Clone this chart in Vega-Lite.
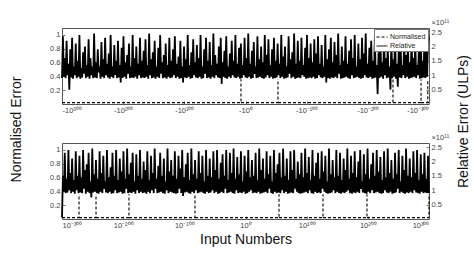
{
"$schema": "https://vega.github.io/schema/vega-lite/v6.json",
"padding": {"left": 8, "top": 18, "right": 5, "bottom": 5},
"config": {
  "font": "Liberation Sans",
  "view": {"stroke": "#555", "strokeWidth": 1},
  "axis": {"grid": false, "domain": false, "tickColor": "#777", "tickSize": -3, "labelFontSize": 7.5, "labelColor": "#444", "titleFontSize": 14, "titleFontWeight": "normal", "titleColor": "#111", "labelPadding": 5}
},
"datasets": {
"top": [
{"i":0,"r":0.9},{"i":1,"r":2.35},{"i":2,"r":0.95},{"i":3,"r":1.6},{"i":4,"r":0.9},{"i":5,"r":2.2},{"i":6,"r":1.0},{"i":7,"r":1.4},{"i":8,"r":0.5},{"i":9,"r":1.9},
{"i":10,"r":0.92},{"i":11,"r":2.3},{"i":12,"r":0.88},{"i":13,"r":1.3},{"i":14,"r":1.0},{"i":15,"r":2.1},{"i":16,"r":0.9},{"i":17,"r":1.5},{"i":18,"r":0.95},{"i":19,"r":2.4},
{"i":20,"r":0.88},{"i":21,"r":1.25},{"i":22,"r":0.92},{"i":23,"r":1.8},{"i":24,"r":1.05},{"i":25,"r":2.0},{"i":26,"r":0.9},{"i":27,"r":1.35},{"i":28,"r":0.95},{"i":29,"r":2.25},
{"i":30,"r":0.88},{"i":31,"r":1.6},{"i":32,"r":1.0},{"i":33,"r":1.3},{"i":34,"r":0.9},{"i":35,"r":2.45},{"i":36,"r":0.92},{"i":37,"r":1.45},{"i":38,"r":0.9},{"i":39,"r":1.9},
{"i":40,"r":1.1},{"i":41,"r":1.3},{"i":42,"r":0.88},{"i":43,"r":2.15},{"i":44,"r":0.95},{"i":45,"r":1.55},{"i":46,"r":0.9},{"i":47,"r":2.3},{"i":48,"r":1.0},{"i":49,"r":1.4},
{"i":50,"r":0.92},{"i":51,"r":1.75},{"i":52,"r":0.88},{"i":53,"r":2.4},{"i":54,"r":0.95},{"i":55,"r":1.3},{"i":56,"r":0.9},{"i":57,"r":2.05},{"i":58,"r":1.0},{"i":59,"r":1.5},
{"i":60,"r":0.9},{"i":61,"r":2.2},{"i":62,"r":0.92},{"i":63,"r":1.35},{"i":64,"r":0.75},{"i":65,"r":1.95},{"i":66,"r":0.9},{"i":67,"r":2.35},{"i":68,"r":0.95},{"i":69,"r":1.45},
{"i":70,"r":0.88},{"i":71,"r":1.7},{"i":72,"r":1.05},{"i":73,"r":2.1},{"i":74,"r":0.9},{"i":75,"r":1.3},{"i":76,"r":0.92},{"i":77,"r":2.4},{"i":78,"r":0.9},{"i":79,"r":1.6},
{"i":80,"r":0.95},{"i":81,"r":2.0},{"i":82,"r":0.88},{"i":83,"r":1.4},{"i":84,"r":1.0},{"i":85,"r":2.3},{"i":86,"r":0.9},{"i":87,"r":1.5},{"i":88,"r":0.92},{"i":89,"r":1.85},
{"i":90,"r":0.9},{"i":91,"r":2.25},{"i":92,"r":0.95},{"i":93,"r":1.35},{"i":94,"r":0.88},{"i":95,"r":2.45},{"i":96,"r":1.0},{"i":97,"r":1.55},{"i":98,"r":0.9},{"i":99,"r":1.8},
{"i":100,"r":0.92},{"i":101,"r":2.2},{"i":102,"r":0.88},{"i":103,"r":1.3},{"i":104,"r":0.95},{"i":105,"r":1.95},{"i":106,"r":0.9},{"i":107,"r":2.4},{"i":108,"r":1.05},{"i":109,"r":1.45},
{"i":110,"r":0.9},{"i":111,"r":1.7},{"i":112,"r":0.92},{"i":113,"r":2.1},{"i":114,"r":0.88},{"i":115,"r":1.35},{"i":116,"r":0.95},{"i":117,"r":2.3},{"i":118,"r":0.9},{"i":119,"r":1.5},
{"i":120,"r":0.92},{"i":121,"r":1.9},{"i":122,"r":1.0},{"i":123,"r":2.35},{"i":124,"r":0.9},{"i":125,"r":1.4},{"i":126,"r":0.95},{"i":127,"r":1.65},{"i":128,"r":0.88},{"i":129,"r":2.2},
{"i":130,"r":0.9},{"i":131,"r":1.3},{"i":132,"r":0.75},{"i":133,"r":2.0},{"i":134,"r":0.92},{"i":135,"r":1.55},{"i":136,"r":0.9},{"i":137,"r":2.4},{"i":138,"r":0.95},{"i":139,"r":1.35},
{"i":140,"r":0.88},{"i":141,"r":1.8},{"i":142,"r":0.9},{"i":143,"r":2.25},{"i":144,"r":1.0},{"i":145,"r":1.45},{"i":146,"r":0.92},{"i":147,"r":2.05},{"i":148,"r":0.9},{"i":149,"r":1.6},
{"i":150,"r":0.95},{"i":151,"r":2.4},{"i":152,"r":0.88},{"i":153,"r":1.3},{"i":154,"r":0.9},{"i":155,"r":1.9},{"i":156,"r":1.05},{"i":157,"r":2.3},{"i":158,"r":0.9},{"i":159,"r":1.5},
{"i":160,"r":0.92},{"i":161,"r":2.15},{"i":162,"r":0.88},{"i":163,"r":1.35},{"i":164,"r":0.95},{"i":165,"r":2.45},{"i":166,"r":0.9},{"i":167,"r":1.7},{"i":168,"r":1.0},{"i":169,"r":1.4},
{"i":170,"r":0.92},{"i":171,"r":2.0},{"i":172,"r":0.9},{"i":173,"r":2.3},{"i":174,"r":0.7},{"i":175,"r":1.45},{"i":176,"r":0.95},{"i":177,"r":1.85},{"i":178,"r":0.9},{"i":179,"r":2.35},
{"i":180,"r":0.88},{"i":181,"r":1.3},{"i":182,"r":0.95},{"i":183,"r":1.75},{"i":184,"r":0.9},{"i":185,"r":2.2},{"i":186,"r":1.0},{"i":187,"r":1.5},{"i":188,"r":0.92},{"i":189,"r":2.4},
{"i":190,"r":0.9},{"i":191,"r":1.4},{"i":192,"r":0.95},{"i":193,"r":1.95},{"i":194,"r":0.88},{"i":195,"r":2.1},{"i":196,"r":0.9},{"i":197,"r":1.35},{"i":198,"r":1.0},{"i":199,"r":2.3},
{"i":200,"r":0.92},{"i":201,"r":1.6},{"i":202,"r":0.9},{"i":203,"r":2.45},{"i":204,"r":0.95},{"i":205,"r":1.4},{"i":206,"r":0.88},{"i":207,"r":1.85},{"i":208,"r":0.9},{"i":209,"r":2.15},
{"i":210,"r":1.05},{"i":211,"r":1.3},{"i":212,"r":0.9},{"i":213,"r":2.35},{"i":214,"r":0.92},{"i":215,"r":1.55},{"i":216,"r":0.95},{"i":217,"r":2.0},{"i":218,"r":0.9},{"i":219,"r":1.45},
{"i":220,"r":0.88},{"i":221,"r":2.4},{"i":222,"r":0.92},{"i":223,"r":1.7},{"i":224,"r":1.0},{"i":225,"r":2.25},{"i":226,"r":0.9},{"i":227,"r":1.35},{"i":228,"r":0.95},{"i":229,"r":1.9},
{"i":230,"r":0.88},{"i":231,"r":2.3},{"i":232,"r":0.9},{"i":233,"r":1.5},{"i":234,"r":0.92},{"i":235,"r":2.1},{"i":236,"r":1.0},{"i":237,"r":1.4},{"i":238,"r":0.9},{"i":239,"r":2.4},
{"i":240,"r":0.95},{"i":241,"r":1.65},{"i":242,"r":0.88},{"i":243,"r":2.0},{"i":244,"r":0.9},{"i":245,"r":1.3},{"i":246,"r":0.92},{"i":247,"r":2.35},{"i":248,"r":1.05},{"i":249,"r":1.55},
{"i":250,"r":0.9},{"i":251,"r":1.8},{"i":252,"r":0.95},{"i":253,"r":2.45},{"i":254,"r":0.88},{"i":255,"r":1.4},{"i":256,"r":0.9},{"i":257,"r":2.2},{"i":258,"r":0.92},{"i":259,"r":1.5},
{"i":260,"r":0.9},{"i":261,"r":2.3},{"i":262,"r":1.0},{"i":263,"r":1.35},{"i":264,"r":0.95},{"i":265,"r":1.95},{"i":266,"r":0.88},{"i":267,"r":2.4},{"i":268,"r":0.9},{"i":269,"r":1.6},
{"i":270,"r":0.92},{"i":271,"r":2.1},{"i":272,"r":0.9},{"i":273,"r":1.45},{"i":274,"r":0.95},{"i":275,"r":2.25},{"i":276,"r":0.88},{"i":277,"r":1.75},{"i":278,"r":0.9},{"i":279,"r":2.35},
{"i":280,"r":1.0},{"i":281,"r":1.4},{"i":282,"r":0.92},{"i":283,"r":2.05},{"i":284,"r":0.9},{"i":285,"r":1.3},{"i":286,"r":0.95},{"i":287,"r":2.4},{"i":288,"r":0.75},{"i":289,"r":1.55},
{"i":290,"r":0.9},{"i":291,"r":1.9},{"i":292,"r":0.88},{"i":293,"r":2.3},{"i":294,"r":0.92},{"i":295,"r":1.45},{"i":296,"r":0.9},{"i":297,"r":2.15},{"i":298,"r":0.95},{"i":299,"r":1.7},
{"i":300,"r":0.9},{"i":301,"r":2.45},{"i":302,"r":1.05},{"i":303,"r":1.35},{"i":304,"r":0.88},{"i":305,"r":2.0},{"i":306,"r":0.9},{"i":307,"r":1.5},{"i":308,"r":0.92},{"i":309,"r":2.35},
{"i":310,"r":0.95},{"i":311,"r":1.4},{"i":312,"r":0.9},{"i":313,"r":1.85},{"i":314,"r":0.88},{"i":315,"r":2.25},{"i":316,"r":1.0},{"i":317,"r":1.6},{"i":318,"r":0.9},{"i":319,"r":2.4},
{"i":320,"r":0.92},{"i":321,"r":1.3},{"i":322,"r":0.95},{"i":323,"r":2.1},{"i":324,"r":0.9},{"i":325,"r":1.55},{"i":326,"r":0.88},{"i":327,"r":2.3},{"i":328,"r":0.9},{"i":329,"r":1.75},
{"i":330,"r":1.0},{"i":331,"r":2.45},{"i":332,"r":0.92},{"i":333,"r":1.4},{"i":334,"r":0.9},{"i":335,"r":1.95},{"i":336,"r":0.95},{"i":337,"r":2.2},{"i":338,"r":0.88},{"i":339,"r":1.5},
{"i":340,"r":0.9},{"i":341,"r":2.35},{"i":342,"r":0.92},{"i":343,"r":1.35},{"i":344,"r":0.35},{"i":345,"r":1.8},{"i":346,"r":0.9},{"i":347,"r":2.25},{"i":348,"r":0.95},{"i":349,"r":1.45},
{"i":350,"r":0.88},{"i":351,"r":2.4},{"i":352,"r":1.0},{"i":353,"r":1.6},{"i":354,"r":0.9},{"i":355,"r":2.0},{"i":356,"r":0.92},{"i":357,"r":1.3},{"i":358,"r":0.5},{"i":359,"r":2.3},
{"i":360,"r":0.9},{"i":361,"r":1.55},{"i":362,"r":0.95},{"i":363,"r":2.45},{"i":364,"r":0.88},{"i":365,"r":1.4},{"i":366,"r":0.6},{"i":367,"r":1.9},{"i":368,"r":0.92},{"i":369,"r":2.2},
{"i":370,"r":0.9},{"i":371,"r":1.35},{"i":372,"r":1.0},{"i":373,"r":2.35},{"i":374,"r":0.9},{"i":375,"r":1.7},{"i":376,"r":0.95},{"i":377,"r":2.1},{"i":378,"r":0.88},{"i":379,"r":1.45},
{"i":380,"r":0.9},{"i":381,"r":2.4},{"i":382,"r":0.92},{"i":383,"r":1.6},{"i":384,"r":0.95},{"i":385,"r":2.25},{"i":386,"r":0.9},{"i":387,"r":1.35},{"i":388,"r":1.0},{"i":389,"r":2.0},
{"i":390,"r":0.88},{"i":391,"r":2.45},{"i":392,"r":0.9},{"i":393,"r":1.5},{"i":394,"r":0.92},{"i":395,"r":2.3},{"i":396,"r":0.9},{"i":397,"r":2.4},{"i":398,"r":0.95},{"i":399,"r":2.4},
{"i":400,"r":2.2}
],
"bot": [
{"i":0,"r":0.05},{"i":1,"r":1.5},{"i":2,"r":0.95},{"i":3,"r":2.3},{"i":4,"r":0.9},{"i":5,"r":1.4},{"i":6,"r":0.92},{"i":7,"r":2.4},{"i":8,"r":1.0},{"i":9,"r":1.6},
{"i":10,"r":0.9},{"i":11,"r":2.1},{"i":12,"r":0.95},{"i":13,"r":1.35},{"i":14,"r":0.88},{"i":15,"r":2.35},{"i":16,"r":1.0},{"i":17,"r":1.5},{"i":18,"r":0.9},{"i":19,"r":2.2},
{"i":20,"r":0.92},{"i":21,"r":1.45},{"i":22,"r":0.9},{"i":23,"r":2.4},{"i":24,"r":1.05},{"i":25,"r":1.7},{"i":26,"r":0.88},{"i":27,"r":1.9},{"i":28,"r":0.95},{"i":29,"r":2.3},
{"i":30,"r":0.9},{"i":31,"r":1.3},{"i":32,"r":0.75},{"i":33,"r":2.45},{"i":34,"r":0.92},{"i":35,"r":1.55},{"i":36,"r":0.95},{"i":37,"r":2.05},{"i":38,"r":0.9},{"i":39,"r":1.4},
{"i":40,"r":0.88},{"i":41,"r":2.35},{"i":42,"r":0.95},{"i":43,"r":1.6},{"i":44,"r":0.9},{"i":45,"r":2.2},{"i":46,"r":1.05},{"i":47,"r":1.3},{"i":48,"r":0.92},{"i":49,"r":2.4},
{"i":50,"r":0.9},{"i":51,"r":1.45},{"i":52,"r":0.95},{"i":53,"r":1.8},{"i":54,"r":0.88},{"i":55,"r":2.3},{"i":56,"r":0.9},{"i":57,"r":1.5},{"i":58,"r":1.0},{"i":59,"r":2.4},
{"i":60,"r":0.9},{"i":61,"r":1.35},{"i":62,"r":0.92},{"i":63,"r":2.1},{"i":64,"r":0.95},{"i":65,"r":1.65},{"i":66,"r":0.88},{"i":67,"r":2.35},{"i":68,"r":0.9},{"i":69,"r":1.4},
{"i":70,"r":1.05},{"i":71,"r":2.45},{"i":72,"r":0.9},{"i":73,"r":1.55},{"i":74,"r":0.92},{"i":75,"r":1.95},{"i":76,"r":0.9},{"i":77,"r":2.3},{"i":78,"r":0.95},{"i":79,"r":1.3},
{"i":80,"r":0.88},{"i":81,"r":2.25},{"i":82,"r":1.0},{"i":83,"r":1.5},{"i":84,"r":0.9},{"i":85,"r":2.4},{"i":86,"r":0.95},{"i":87,"r":1.4},{"i":88,"r":0.9},{"i":89,"r":2.0},
{"i":90,"r":0.92},{"i":91,"r":1.7},{"i":92,"r":0.88},{"i":93,"r":2.35},{"i":94,"r":0.95},{"i":95,"r":1.35},{"i":96,"r":0.9},{"i":97,"r":2.2},{"i":98,"r":1.0},{"i":99,"r":1.6},
{"i":100,"r":0.9},{"i":101,"r":2.45},{"i":102,"r":1.05},{"i":103,"r":1.4},{"i":104,"r":0.9},{"i":105,"r":1.85},{"i":106,"r":0.92},{"i":107,"r":2.3},{"i":108,"r":0.95},{"i":109,"r":1.5},
{"i":110,"r":0.9},{"i":111,"r":2.1},{"i":112,"r":0.88},{"i":113,"r":1.3},{"i":114,"r":1.0},{"i":115,"r":2.45},{"i":116,"r":0.9},{"i":117,"r":1.65},{"i":118,"r":0.95},{"i":119,"r":2.05},
{"i":120,"r":0.92},{"i":121,"r":1.5},{"i":122,"r":0.9},{"i":123,"r":2.35},{"i":124,"r":0.88},{"i":125,"r":1.4},{"i":126,"r":0.9},{"i":127,"r":2.2},{"i":128,"r":1.05},{"i":129,"r":1.75},
{"i":130,"r":0.9},{"i":131,"r":2.4},{"i":132,"r":0.8},{"i":133,"r":1.45},{"i":134,"r":0.92},{"i":135,"r":1.9},{"i":136,"r":0.95},{"i":137,"r":2.3},{"i":138,"r":0.9},{"i":139,"r":1.35},
{"i":140,"r":0.88},{"i":141,"r":2.45},{"i":142,"r":0.95},{"i":143,"r":1.55},{"i":144,"r":0.9},{"i":145,"r":2.05},{"i":146,"r":1.0},{"i":147,"r":1.4},{"i":148,"r":0.9},{"i":149,"r":2.35},
{"i":150,"r":0.92},{"i":151,"r":1.6},{"i":152,"r":0.95},{"i":153,"r":2.2},{"i":154,"r":0.9},{"i":155,"r":1.3},{"i":156,"r":0.88},{"i":157,"r":2.4},{"i":158,"r":0.95},{"i":159,"r":1.5},
{"i":160,"r":0.9},{"i":161,"r":2.1},{"i":162,"r":0.92},{"i":163,"r":1.45},{"i":164,"r":1.0},{"i":165,"r":2.35},{"i":166,"r":0.9},{"i":167,"r":1.7},{"i":168,"r":0.95},{"i":169,"r":2.4},
{"i":170,"r":0.88},{"i":171,"r":1.4},{"i":172,"r":0.9},{"i":173,"r":1.95},{"i":174,"r":0.95},{"i":175,"r":2.25},{"i":176,"r":0.9},{"i":177,"r":1.5},{"i":178,"r":1.05},{"i":179,"r":2.4},
{"i":180,"r":0.9},{"i":181,"r":1.35},{"i":182,"r":0.92},{"i":183,"r":2.3},{"i":184,"r":0.95},{"i":185,"r":1.6},{"i":186,"r":0.9},{"i":187,"r":2.45},{"i":188,"r":0.88},{"i":189,"r":1.4},
{"i":190,"r":1.0},{"i":191,"r":2.15},{"i":192,"r":0.9},{"i":193,"r":1.55},{"i":194,"r":0.92},{"i":195,"r":2.35},{"i":196,"r":0.9},{"i":197,"r":1.3},{"i":198,"r":0.95},{"i":199,"r":2.2},
{"i":200,"r":0.88},{"i":201,"r":1.65},{"i":202,"r":0.9},{"i":203,"r":2.4},{"i":204,"r":0.95},{"i":205,"r":1.45},{"i":206,"r":1.0},{"i":207,"r":2.05},{"i":208,"r":0.9},{"i":209,"r":1.5},
{"i":210,"r":0.92},{"i":211,"r":2.3},{"i":212,"r":0.9},{"i":213,"r":1.35},{"i":214,"r":0.95},{"i":215,"r":2.45},{"i":216,"r":0.88},{"i":217,"r":1.7},{"i":218,"r":0.9},{"i":219,"r":2.1},
{"i":220,"r":0.92},{"i":221,"r":1.4},{"i":222,"r":0.95},{"i":223,"r":2.35},{"i":224,"r":0.9},{"i":225,"r":1.55},{"i":226,"r":1.05},{"i":227,"r":2.2},{"i":228,"r":0.9},{"i":229,"r":1.3},
{"i":230,"r":0.88},{"i":231,"r":2.4},{"i":232,"r":0.95},{"i":233,"r":1.6},{"i":234,"r":0.9},{"i":235,"r":1.9},{"i":236,"r":0.92},{"i":237,"r":2.3},{"i":238,"r":0.9},{"i":239,"r":1.45},
{"i":240,"r":1.0},{"i":241,"r":2.45},{"i":242,"r":0.9},{"i":243,"r":1.5},{"i":244,"r":0.95},{"i":245,"r":2.1},{"i":246,"r":0.88},{"i":247,"r":1.35},{"i":248,"r":0.9},{"i":249,"r":2.35},
{"i":250,"r":0.92},{"i":251,"r":1.7},{"i":252,"r":0.9},{"i":253,"r":2.4},{"i":254,"r":1.05},{"i":255,"r":1.4},{"i":256,"r":0.95},{"i":257,"r":2.0},{"i":258,"r":0.9},{"i":259,"r":1.55},
{"i":260,"r":0.88},{"i":261,"r":2.3},{"i":262,"r":0.9},{"i":263,"r":1.45},{"i":264,"r":0.92},{"i":265,"r":2.45},{"i":266,"r":0.95},{"i":267,"r":1.6},{"i":268,"r":0.9},{"i":269,"r":2.15},
{"i":270,"r":1.0},{"i":271,"r":1.35},{"i":272,"r":0.9},{"i":273,"r":2.4},{"i":274,"r":0.88},{"i":275,"r":1.5},{"i":276,"r":0.95},{"i":277,"r":1.95},{"i":278,"r":0.9},{"i":279,"r":2.3},
{"i":280,"r":0.92},{"i":281,"r":1.4},{"i":282,"r":0.9},{"i":283,"r":2.35},{"i":284,"r":1.05},{"i":285,"r":1.65},{"i":286,"r":0.95},{"i":287,"r":2.2},{"i":288,"r":0.9},{"i":289,"r":1.3},
{"i":290,"r":0.88},{"i":291,"r":2.45},{"i":292,"r":0.9},{"i":293,"r":1.55},{"i":294,"r":0.92},{"i":295,"r":2.05},{"i":296,"r":1.0},{"i":297,"r":1.45},{"i":298,"r":0.9},{"i":299,"r":2.4},
{"i":300,"r":0.95},{"i":301,"r":1.5},{"i":302,"r":0.9},{"i":303,"r":2.3},{"i":304,"r":0.88},{"i":305,"r":1.35},{"i":306,"r":0.92},{"i":307,"r":2.1},{"i":308,"r":0.9},{"i":309,"r":1.7},
{"i":310,"r":0.95},{"i":311,"r":2.45},{"i":312,"r":1.0},{"i":313,"r":1.4},{"i":314,"r":0.9},{"i":315,"r":2.2},{"i":316,"r":0.88},{"i":317,"r":1.6},{"i":318,"r":0.92},{"i":319,"r":2.35},
{"i":320,"r":0.9},{"i":321,"r":1.45},{"i":322,"r":0.95},{"i":323,"r":2.0},{"i":324,"r":0.9},{"i":325,"r":2.4},{"i":326,"r":1.05},{"i":327,"r":1.3},{"i":328,"r":0.92},{"i":329,"r":2.25},
{"i":330,"r":0.9},{"i":331,"r":1.55},{"i":332,"r":0.88},{"i":333,"r":2.45},{"i":334,"r":0.95},{"i":335,"r":1.4},{"i":336,"r":0.9},{"i":337,"r":1.9},{"i":338,"r":1.0},{"i":339,"r":2.3},
{"i":340,"r":0.9},{"i":341,"r":1.5},{"i":342,"r":0.92},{"i":343,"r":2.4},{"i":344,"r":0.95},{"i":345,"r":1.65},{"i":346,"r":0.9},{"i":347,"r":2.15},{"i":348,"r":0.88},{"i":349,"r":1.35},
{"i":350,"r":0.9},{"i":351,"r":2.35},{"i":352,"r":1.0},{"i":353,"r":1.45},{"i":354,"r":0.92},{"i":355,"r":2.45},{"i":356,"r":0.9},{"i":357,"r":1.6},{"i":358,"r":0.95},{"i":359,"r":2.05},
{"i":360,"r":0.88},{"i":361,"r":1.4},{"i":362,"r":0.9},{"i":363,"r":2.3},{"i":364,"r":0.92},{"i":365,"r":1.55},{"i":366,"r":1.05},{"i":367,"r":2.4},{"i":368,"r":0.9},{"i":369,"r":1.3},
{"i":370,"r":0.95},{"i":371,"r":2.2},{"i":372,"r":0.9},{"i":373,"r":1.7},{"i":374,"r":0.88},{"i":375,"r":2.45},{"i":376,"r":0.92},{"i":377,"r":1.5},{"i":378,"r":0.9},{"i":379,"r":2.1},
{"i":380,"r":0.95},{"i":381,"r":1.45},{"i":382,"r":0.9},{"i":383,"r":2.35},{"i":384,"r":1.0},{"i":385,"r":1.6},{"i":386,"r":0.92},{"i":387,"r":2.4},{"i":388,"r":0.9},{"i":389,"r":1.35},
{"i":390,"r":0.88},{"i":391,"r":2.25},{"i":392,"r":0.95},{"i":393,"r":1.55},{"i":394,"r":0.9},{"i":395,"r":2.3},{"i":396,"r":0.92},{"i":397,"r":1.4},{"i":398,"r":0.9},{"i":399,"r":2.2},
{"i":400,"r":0.9}
],
"ntop": [
{"i":0,"n":0.02},
{"i":195.07,"n":0.02},{"i":195.08,"n":0.36},{"i":195.09,"n":null},{"i":195.1,"n":0.02},
{"i":235.4,"n":0.02},{"i":235.41,"n":0.36},{"i":235.42,"n":null},{"i":235.43,"n":0.02},
{"i":360.73,"n":0.02},{"i":360.74,"n":0.36},{"i":360.75,"n":null},{"i":360.76,"n":0.02},
{"i":391.33,"n":0.02},{"i":391.34,"n":0.36},{"i":391.35,"n":null},{"i":391.36,"n":0.02},
{"i":398.67,"n":0.02},{"i":398.68,"n":0.36},{"i":398.69,"n":null},{"i":398.7,"n":0.02},
{"i":400,"n":0.02}
],
"nbot": [
{"i":0,"n":0.02},
{"i":18.53,"n":0.02},{"i":18.54,"n":0.36},{"i":18.55,"n":null},{"i":18.56,"n":0.02},
{"i":37.07,"n":0.02},{"i":37.08,"n":0.36},{"i":37.09,"n":null},{"i":37.1,"n":0.02},
{"i":73.0,"n":0.02},{"i":73.01,"n":0.36},{"i":73.02,"n":null},{"i":73.03,"n":0.02},
{"i":144.93,"n":0.02},{"i":144.94,"n":0.36},{"i":144.95,"n":null},{"i":144.96,"n":0.02},
{"i":236.53,"n":0.02},{"i":236.54,"n":0.36},{"i":236.55,"n":null},{"i":236.56,"n":0.02},
{"i":284.47,"n":0.02},{"i":284.48,"n":0.36},{"i":284.49,"n":null},{"i":284.5,"n":0.02},
{"i":332.4,"n":0.02},{"i":332.41,"n":0.36},{"i":332.42,"n":null},{"i":332.43,"n":0.02},
{"i":399.9,"n":0.02},{"i":400,"n":0.36}
]
},
"spacing": 39,
"bounds": "flush",
"resolve": {"scale": {"strokeDash": "independent"}, "legend": {"strokeDash": "independent"}},
"vconcat": [
{
  "width": 367, "height": 76,
  "layer": [
    {
      "data": {"name": "ntop"},
      "mark": {"type": "line", "color": "black", "strokeWidth": 1.1},
      "encoding": {
        "x": {"field": "i", "type": "quantitative", "scale": {"domain": [0, 400], "nice": false},
              "axis": {"values": [0, 66.6667, 133.3333, 200, 266.6667, 333.3333, 400], "labelExpr": "['-10³⁰⁰','-10²⁰⁰','-10¹⁰⁰','-10⁰','-10⁻¹⁰⁰','-10⁻²⁰⁰','-10⁻³⁰⁰'][round(datum.value/66.6667)]", "title": null}},
        "y": {"field": "n", "type": "quantitative", "scale": {"domain": [0, 1.1], "nice": false, "zero": false},
              "axis": {"orient": "left", "values": [0.2,0.4,0.6,0.8,1], "labelExpr": "'' + datum.value", "title": "Normalised Error", "titleAngle": 270, "titleBaseline": "middle", "titleX": -46, "titleY": 101}},
        "strokeDash": {"datum": "Normalised", "type": "nominal",
              "scale": {"domain": ["Normalised", "Relative"], "range": [[3,2],[1,0]]},
              "legend": {"title": null, "orient": "top-right", "offset": 1, "fillColor": "white", "strokeColor": "#777", "padding": 2, "labelFontSize": 7, "labelColor": "#222", "symbolType": "stroke", "symbolStrokeWidth": 1, "symbolSize": 120, "symbolStrokeColor": "black", "rowPadding": 0, "labelOffset": 2}}
      }
    },
    {
      "data": {"name": "top"},
      "mark": {"type": "line", "color": "black", "strokeWidth": 1.8, "strokeJoin": "bevel"},
      "encoding": {
        "x": {"field": "i", "type": "quantitative"},
        "y": {"field": "r", "type": "quantitative", "scale": {"domain": [0, 2.64], "nice": false},
              "axis": {"orient": "right", "values": [0.5,1,1.5,2,2.5], "labelExpr": "'' + datum.value", "title": "Relative Error (ULPs)", "titleAngle": 270, "titleBaseline": "middle", "titleX": 34, "titleY": 93}},
        "strokeDash": {"datum": "Relative", "type": "nominal"}
      }
    },
    {
      "data": {"values": [{}]},
      "mark": {"type": "text", "text": "×10¹¹", "align": "left", "baseline": "middle", "fontSize": 7.5, "color": "#444"},
      "encoding": {
        "x": {"datum": 402.7, "type": "quantitative"},
        "y": {"datum": 2.82, "type": "quantitative", "scale": {"domain": [0, 2.64], "nice": false}, "axis": null}
      }
    }
  ],
  "resolve": {"scale": {"y": "independent"}}
},
{
  "width": 367, "height": 76,
  "layer": [
    {
      "data": {"name": "nbot"},
      "mark": {"type": "line", "color": "black", "strokeWidth": 1.1, "strokeDash": [3,2]},
      "encoding": {
        "x": {"field": "i", "type": "quantitative", "scale": {"domain": [0, 400], "nice": false},
              "axis": {"values": [0, 66.6667, 133.3333, 200, 266.6667, 333.3333, 400], "labelExpr": "['10⁻³⁰⁰','10⁻²⁰⁰','10⁻¹⁰⁰','10⁰','10¹⁰⁰','10²⁰⁰','10³⁰⁰'][round(datum.value/66.6667)]", "title": "Input Numbers", "titlePadding": 4}},
        "y": {"field": "n", "type": "quantitative", "scale": {"domain": [0, 1.1], "nice": false, "zero": false},
              "axis": {"orient": "left", "values": [0.2,0.4,0.6,0.8,1], "labelExpr": "'' + datum.value", "title": null}}
      }
    },
    {
      "data": {"name": "bot"},
      "mark": {"type": "line", "color": "black", "strokeWidth": 1.8, "strokeJoin": "bevel"},
      "encoding": {
        "x": {"field": "i", "type": "quantitative"},
        "y": {"field": "r", "type": "quantitative", "scale": {"domain": [0, 2.64], "nice": false},
              "axis": {"orient": "right", "values": [0.5,1,1.5,2,2.5], "labelExpr": "'' + datum.value", "title": null}}
      }
    },
    {
      "data": {"values": [{}]},
      "mark": {"type": "text", "text": "×10¹¹", "align": "left", "baseline": "middle", "fontSize": 7.5, "color": "#444"},
      "encoding": {
        "x": {"datum": 402.7, "type": "quantitative"},
        "y": {"datum": 2.82, "type": "quantitative", "scale": {"domain": [0, 2.64], "nice": false}, "axis": null}
      }
    }
  ],
  "resolve": {"scale": {"y": "independent"}}
}
]
}
